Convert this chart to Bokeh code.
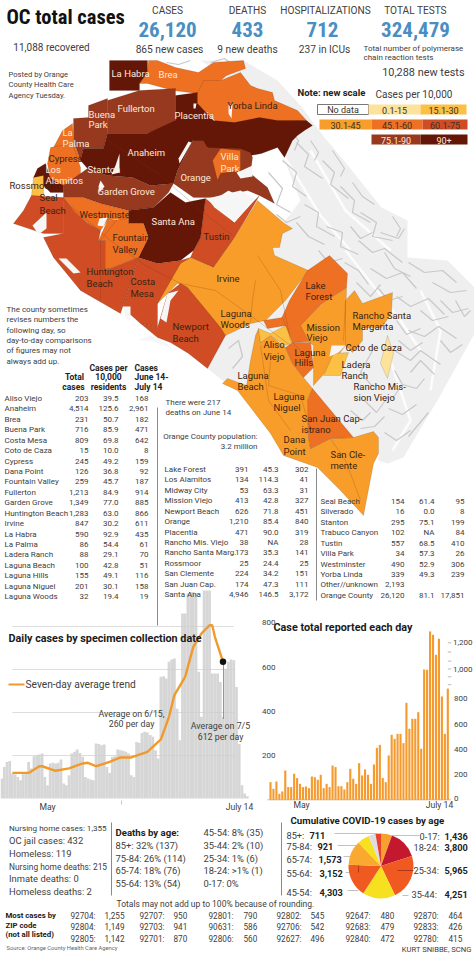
import math
from collections import defaultdict
from bokeh.core.properties import value
from bokeh.embed import file_html
from bokeh.models import ColumnDataSource, Range1d
from bokeh.plotting import figure
from bokeh.resources import INLINE

# ---------- DATA ----------
BIN_LABELS = ["No data", "0.1-15", "15.1-30", "30.1-45", "45.1-60", "60.1-75", "75.1-90", "90+"]
BIN_COLORS = ["#ffffff", "#fde29a", "#fcc044", "#f99d2a", "#ee7023", "#cf4c24", "#97391f", "#651707"]

TABLE_1 = [
    ("Aliso Viejo", "203", "39.5", "168"), ("Anaheim", "4,514", "125.6", "2,961"), ("Brea", "231", "50.7", "182"),
    ("Buena Park", "716", "85.9", "471"), ("Costa Mesa", "809", "69.8", "642"), ("Coto de Caza", "15", "10.0", "8"),
    ("Cypress", "245", "49.2", "159"), ("Dana Point", "126", "36.8", "92"), ("Fountain Valley", "259", "45.7", "187"),
    ("Fullerton", "1,213", "84.9", "914"), ("Garden Grove", "1,349", "77.0", "885"),
    ("Huntington Beach", "1,283", "63.0", "866"), ("Irvine", "847", "30.2", "611"), ("La Habra", "590", "92.9", "435"),
    ("La Palma", "86", "54.4", "61"), ("Ladera Ranch", "88", "29.1", "70"), ("Laguna Beach", "100", "42.8", "51"),
    ("Laguna Hills", "155", "49.1", "116"), ("Laguna Niguel", "201", "30.1", "158"), ("Laguna Woods", "32", "19.4", "19"),
]
TABLE_2 = [
    ("Lake Forest", "391", "45.3", "302"), ("Los Alamitos", "134", "114.3", "41"), ("Midway City", "53", "63.3", "31"),
    ("Mission Viejo", "413", "42.8", "327"), ("Newport Beach", "626", "71.8", "451"), ("Orange", "1,210", "85.4", "840"),
    ("Placentia", "471", "90.0", "319"), ("Rancho Mis. Viejo", "38", "NA", "28"), ("Rancho Santa Marg.", "173", "35.3", "141"),
    ("Rossmoor", "25", "24.4", "25"), ("San Clemente", "224", "34.2", "151"), ("San Juan Cap.", "174", "47.3", "111"),
    ("Santa Ana", "4,946", "146.5", "3,172"),
]
TABLE_3 = [
    ("Seal Beach", "154", "61.4", "95"), ("Silverado", "16", "0.0", "8"), ("Stanton", "295", "75.1", "199"),
    ("Trabuco Canyon", "102", "NA", "84"), ("Tustin", "557", "68.5", "410"), ("Villa Park", "34", "57.3", "26"),
    ("Westminster", "490", "52.9", "306"), ("Yorba Linda", "339", "49.3", "239"), ("Other//unknown", "2,193", "", ""),
    ("Orange County", "26,120", "81.1", "17,851"),
]

# Daily cases by specimen collection date (day index 0 = Apr 14)
DAILY_CASES = [93, 147, 170, 175, 116, 113, 100, 85, 113, 119, 170, 140, 197, 201, 205, 209, 100, 62, 163, 166,
               163, 166, 181, 70, 62, 108, 209, 217, 228, 212, 194, 100, 93, 88, 85, 256, 253, 248, 251, 147,
               119, 194, 197, 228, 225, 222, 217, 209, 108, 100, 263, 259, 305, 310, 307, 295, 287, 225, 186, 566,
               569, 558, 636, 646, 651, 418, 271, 860, 860, 953, 960, 960, 953, 589, 380, 968, 968, 968, 581, 581,
               581, 542, 380, 604, 636, 646, 643, 519, 253, 62, 23, 11]
AVG_DAYS = [4, 10, 14, 15, 20, 25, 30, 32, 35, 40, 44, 48, 54, 59, 62, 64, 68, 71, 74, 77, 78, 79, 82]
AVG_VALUES = [119, 119, 150, 150, 129, 140, 163, 166, 150, 170, 191, 191, 217, 275, 380, 481, 566, 705, 767, 806, 806, 752, 636]
DAILY_TICKS = [200, 400, 600, 800]

REPORTED_CASES = [135, 84, 140, 46, 64, 224, 97, 97, 199, 166, 122, 97, 102, 89, 178, 173, 153, 191, 89, 122, 97,
                  262, 250, 104, 104, 79, 135, 237, 161, 122, 280, 186, 232, 191, 122, 270, 397, 420, 166, 135,
                  339, 497, 466, 504, 504, 433, 741, 543, 619, 619, 670, 390, 996, 994, 1287, 1261, 1108, 1231,
                  790, 504, 850]
REPORTED_TICKS = [0, 200, 400, 600, 800, 1000, 1200]
REPORTED_MINOR_TICKS = [880, 940, 1000, 1060, 1130, 1200]

AGE_GROUPS = ["0-17", "18-24", "25-34", "35-44", "45-54", "55-64", "65-74", "75-84", "85+"]
AGE_CASES = [1436, 3800, 5965, 4251, 4303, 3152, 1573, 921, 711]
AGE_COLORS = ["#f7a030", "#c4182f", "#f05a20", "#f7e020", "#f05a20", "#f9a830", "#f7e020", "#dcdce4", "#e8402a"]

DEATHS_BY_AGE_1 = ["85+: 32% (137)", "75-84: 26% (114)", "65-74: 18% (76)", "55-64: 13% (54)"]
DEATHS_BY_AGE_2 = ["45-54: 8% (35)", "35-44: 2% (10)", "25-34: 1% (6)", "18-24: >1% (1)", "0-17: 0%"]

ZIP_CODES = [
    [("92704:", "1,255"), ("92804:", "1,149"), ("92805:", "1,142")],
    [("92707:", "950"), ("92703:", "941"), ("92701:", "870")],
    [("92801:", "790"), ("90631:", "586"), ("92806:", "560")],
    [("92802:", "545"), ("92706:", "542"), ("92627:", "496")],
    [("92647:", "480"), ("92683:", "479"), ("92840:", "472")],
    [("92870:", "464"), ("92833:", "426"), ("92780:", "415")],
]

# Map outlines: (place, legend bin, outline)
HILLS = [(150, 60), (243, 60), (277, 80), (300, 105), (324, 137), (341, 157), (381, 207), (407, 220), (407, 257),
         (447, 260), (474, 287), (474, 333), (437, 400), (423, 423), (403, 457), (387, 463), (378, 460), (378, 437),
         (353, 437), (300, 380), (237, 390), (222, 380), (207, 368), (225, 300), (300, 200), (260, 100), (200, 60)]
REGIONS = [
    ("Brea", 4, [(148, 60), (157, 60), (175, 67), (198, 72), (213, 62), (243, 60), (245, 68), (226, 75), (218, 82), (203, 82), (197, 93), (173, 90), (147, 83), (139, 83), (147, 72)]),
    ("Yorba Linda", 4, [(197, 93), (203, 80), (220, 80), (240, 72), (250, 85), (257, 88), (272, 92), (274, 100), (297, 110), (306, 120), (277, 122), (259, 119), (234, 124), (217, 122), (197, 105)]),
    ("La Habra", 7, [(109, 60), (147, 60), (147, 72), (139, 83), (139, 90), (109, 90)]),
    ("Fullerton", 6, [(107, 133), (107, 100), (139, 90), (175, 88), (175, 123), (147, 133)]),
    ("Buena Park", 6, [(73, 118), (88, 117), (88, 105), (107, 98), (107, 133), (103, 148), (83, 148), (80, 160), (73, 140)]),
    ("La Palma", 4, [(72, 123), (73, 140), (80, 160), (72, 165), (53, 147), (62, 130)]),
    ("Cypress", 4, [(50, 147), (72, 143), (80, 167), (80, 177), (63, 185), (50, 180), (47, 163)]),
    ("Los Alamitos", 7, [(45, 163), (50, 178), (63, 185), (63, 192), (50, 192), (43, 185), (33, 177), (37, 168)]),
    ("Rossmoor", 2, [(33, 177), (43, 175), (43, 193), (40, 197), (31, 195)]),
    ("Anaheim and Placentia", 7, [(175, 95), (197, 92), (197, 103), (213, 120), (234, 122), (259, 117), (277, 120), (306, 120), (312, 125), (304, 130), (297, 135), (292, 140), (284, 157), (277, 147), (261, 153), (234, 158), (207, 147), (192, 140), (177, 170), (173, 183), (150, 185), (132, 177), (107, 175), (87, 168), (80, 160), (83, 148), (103, 148), (107, 133), (147, 133), (175, 120)]),
    ("Orange", 6, [(177, 170), (192, 140), (203, 140), (207, 147), (240, 148), (250, 152), (252, 157), (250, 173), (267, 187), (274, 203), (259, 195), (247, 190), (234, 193), (228, 190), (217, 197), (193, 197), (173, 183)]),
    ("Villa Park", 4, [(212, 160), (220, 148), (240, 150), (240, 170), (220, 173), (217, 180)]),
    ("Garden Grove and Stanton", 6, [(63, 185), (80, 173), (87, 168), (107, 175), (132, 177), (150, 185), (173, 183), (168, 192), (153, 207), (128, 210), (100, 203), (83, 197), (63, 197)]),
    ("Tustin", 5, [(205, 198), (214, 205), (234, 222), (254, 200), (259, 195), (234, 237), (230, 243), (213, 267), (190, 257), (193, 250), (200, 237)]),
    ("Santa Ana", 7, [(170, 192), (185, 202), (205, 198), (200, 237), (193, 250), (180, 260), (157, 263), (138, 257), (148, 237), (143, 223), (128, 223), (128, 210), (153, 207)]),
    ("Westminster", 4, [(63, 197), (83, 197), (100, 203), (128, 210), (128, 223), (117, 218), (107, 220), (100, 230), (87, 223), (73, 210)]),
    ("Fountain Valley", 4, [(107, 220), (128, 218), (128, 223), (143, 223), (148, 237), (138, 257), (105, 270), (105, 240), (98, 240)]),
    ("Seal Beach", 5, [(31, 195), (63, 197), (63, 233), (43, 233), (13, 223), (23, 210)]),
    ("Huntington Beach", 5, [(63, 197), (73, 210), (87, 223), (100, 230), (98, 240), (105, 240), (105, 270), (138, 257), (122, 307), (120, 313), (80, 290), (53, 257), (43, 237), (63, 233)]),
    ("Costa Mesa", 5, [(138, 257), (157, 263), (180, 260), (190, 257), (157, 303), (157, 327), (140, 323), (122, 307)]),
    ("Irvine and Laguna Woods", 3, [(177, 283), (157, 303), (180, 263), (190, 257), (213, 267), (234, 237), (257, 200), (284, 223), (292, 228), (282, 233), (279, 247), (272, 247), (274, 255), (308, 270), (285, 300), (265, 320), (250, 323), (225, 335), (187, 287)]),
    ("Newport Beach", 5, [(180, 283), (187, 287), (220, 327), (225, 335), (207, 368), (188, 353), (170, 342), (157, 337), (140, 323), (157, 327), (167, 293)]),
    ("Mission Viejo", 3, [(321, 303), (346, 287), (345, 345), (322, 375), (313, 385), (313, 345), (308, 341), (300, 325)]),
    ("Lake Forest", 4, [(329, 255), (347, 273), (346, 287), (321, 303), (300, 325), (308, 341), (292, 342), (283, 322), (281, 318), (289, 300), (307, 270)]),
    ("Rancho Santa Margarita", 3, [(354, 290), (362, 303), (392, 292), (391, 313), (381, 327), (362, 327), (362, 340), (352, 352), (345, 345), (345, 300)]),
    ("Ladera Ranch", 2, [(333, 353), (348, 352), (340, 375), (323, 375)]),
    ("Coto de Caza", 1, [(387, 335), (393, 353), (387, 378), (380, 363)]),
    ("South coast", 3, [(255, 335), (258, 328), (260, 342), (270, 335), (285, 347), (292, 363), (303, 377), (312, 388), (307, 400), (308, 437), (310, 448), (330, 438), (353, 437), (373, 431), (378, 437), (378, 453), (373, 463), (363, 515), (340, 490), (317, 467), (283, 455), (270, 433), (237, 390), (222, 383), (227, 378), (246, 385), (250, 360)]),
    ("Aliso Viejo north", 2, [(258, 328), (270, 333), (285, 325), (292, 342), (285, 345), (270, 335), (260, 342)]),
    ("Laguna Woods east", 4, [(263, 320), (282, 317), (285, 325), (267, 328)]),
    ("Laguna Hills", 4, [(285, 347), (292, 342), (310, 342), (313, 367), (303, 377), (292, 363)]),
    ("San Juan Capistrano", 4, [(312, 388), (353, 437), (330, 438), (310, 448), (308, 437), (307, 400)]),
]
WHITE_HOLES = [
    [(207, 198), (240, 190), (254, 198), (234, 222), (214, 207)],
    [(179, 163), (191, 142), (188, 141), (178, 158)],
    [(115, 165), (119, 153), (119, 172), (111, 174)],
    [(100, 180), (104, 186), (99, 192), (98, 186)],
    [(99, 218), (107, 217), (103, 226), (97, 225)],
    [(32, 225), (46, 212), (46, 228), (38, 234)],
    [(58, 258), (66, 258), (80, 272), (73, 273)],
    [(122, 306), (130, 306), (130, 320), (125, 318)],
    [(160, 318), (167, 293), (178, 290), (170, 300), (166, 322)],
    [(193, 103), (196, 103), (195, 108), (193, 108)],
    [(228, 105), (232, 103), (231, 118), (228, 113)],
    [(252, 165), (241, 170), (236, 172), (240, 178), (252, 176)],
    [(137, 340), (150, 335), (168, 344), (172, 348), (150, 340)],
    [(331, 345), (345, 345), (338, 352), (329, 356)],
]
ROADS = [
    [(60, 197), (110, 240), (145, 265), (180, 283), (215, 290), (250, 315), (290, 345)],
    [(100, 135), (160, 175), (200, 210), (232, 235)],
    [(117, 218), (100, 240), (100, 300)],
    [(257, 255), (280, 290), (290, 340), (310, 360)],
    [(255, 280), (252, 300), (250, 322)],
    [(345, 300), (343, 340)],
    [(260, 345), (268, 400), (290, 430)],
    [(330, 438), (345, 460), (360, 500)],
    [(270, 360), (268, 385), (300, 395), (310, 430)],
]
RIDGES_DARK = [
    [(296, 142), (308, 154), (304, 166), (322, 178)], [(282, 160), (296, 172), (292, 186), (306, 196)],
    [(322, 160), (334, 172), (330, 184), (348, 198)], [(304, 204), (318, 212), (316, 226), (334, 236)],
    [(340, 186), (354, 200), (352, 212), (370, 222)], [(326, 226), (342, 232), (340, 246), (358, 254)],
    [(360, 212), (376, 222), (372, 236), (392, 240)], [(268, 172), (282, 188), (276, 204), (290, 212)],
    [(358, 240), (372, 252), (384, 248), (402, 262)], [(380, 232), (398, 238), (404, 228)],
    [(296, 222), (308, 236), (324, 244)], [(344, 262), (358, 270), (368, 284)],
    [(370, 268), (386, 278), (402, 272), (416, 288)], [(408, 262), (424, 272), (442, 270), (456, 282)],
    [(396, 296), (410, 306), (428, 298), (444, 314)], [(432, 282), (450, 292), (466, 290)],
    [(408, 330), (424, 336), (438, 326), (456, 338)], [(394, 350), (410, 360), (420, 350), (440, 364)],
    [(402, 384), (416, 388), (424, 378)], [(388, 408), (402, 414), (416, 404)],
    [(384, 432), (396, 440), (410, 430)], [(364, 400), (376, 412), (388, 396)],
    [(350, 410), (362, 420), (370, 412)], [(372, 350), (360, 372), (372, 386)],
    [(210, 62), (224, 58), (232, 64)], [(166, 62), (178, 64), (190, 60)],
    [(228, 348), (238, 340), (242, 356), (232, 368)], [(440, 300), (452, 312), (468, 308)],
    [(310, 140), (318, 152), (314, 160)], [(332, 150), (344, 168), (340, 176)], [(290, 130), (298, 140), (294, 150)],
    [(276, 214), (286, 222), (300, 216)], [(352, 182), (362, 196), (374, 204)], [(392, 216), (400, 228), (396, 236)],
    [(318, 250), (328, 262), (342, 258)], [(350, 226), (360, 238), (372, 232)], [(384, 252), (394, 268), (410, 276)],
    [(378, 288), (388, 300), (402, 296)], [(356, 282), (370, 296), (380, 284)], [(420, 310), (432, 320), (448, 316)],
    [(396, 320), (406, 334), (420, 328)], [(440, 340), (450, 352), (462, 344)], [(410, 372), (420, 360), (434, 374)],
    [(394, 370), (402, 384), (392, 398)], [(360, 428), (374, 426), (384, 416)], [(408, 436), (418, 424), (428, 412)],
    [(398, 340), (410, 350), (422, 342)], [(455, 300), (464, 316), (470, 310)],
]
RIDGES_LIGHT = [
    [(280, 150), (320, 215), (350, 250)], [(310, 150), (345, 210), (390, 250)], [(345, 250), (400, 320), (420, 350)],
    [(420, 290), (440, 330), (430, 390)], [(390, 360), (410, 420), (392, 450)], [(180, 61), (200, 68), (226, 61)],
]
# ---------- LAYOUT ----------
W, H = 474, 962
BODY = "Roboto"
HEAD = "Roboto Condensed, Roboto"
INK = "#404040"
BLUE = "#4a8ec2"
DARK_LABEL = "#3a2410"
LIGHT_LABEL = "#fbe9dc"

p = figure(width=W, height=H, x_range=Range1d(0, W), y_range=Range1d(H, 0), output_backend="svg",
           toolbar_location=None, min_border=0, outline_line_color=None, background_fill_color="white")
p.axis.visible = False
p.grid.visible = False


def add_ranges(name, x_val_a, x_px_a, x_val_b, x_px_b, y_val_a, y_px_a, y_val_b, y_px_b):
    """Panel scales: each chart keeps its value scale, placed in the page by two anchor pixels."""
    fx = (x_val_b - x_val_a) / (x_px_b - x_px_a)
    fy = (y_val_b - y_val_a) / (y_px_b - y_px_a)
    p.extra_x_ranges[name] = Range1d(x_val_a + (0 - x_px_a) * fx, x_val_a + (W - x_px_a) * fx)
    p.extra_y_ranges[name] = Range1d(y_val_a + (H - y_px_a) * fy, y_val_a + (0 - y_px_a) * fy)


texts = defaultdict(lambda: dict(x=[], y=[], text=[]))


def label(text, x, y, size=8, color=INK, align="left", bold=False, font=BODY):
    d = texts[(size, color, align, bold, font)]
    d["x"].append(x)
    d["y"].append(y)
    d["text"].append(text)


def flush_labels():
    for (size, color, align, bold, font), d in texts.items():
        p.text(x="x", y="y", text="text", source=ColumnDataSource(d), text_font=value(font),
               text_font_size=f"{size}px", text_color=color, text_align=align, text_baseline="middle",
               text_font_style="bold" if bold else "normal")


def xs_ys(polys):
    return [[q[0] for q in o] for o in polys], [[q[1] for q in o] for o in polys]


# ---------- MAP ----------
hx, hy = xs_ys([HILLS])
p.patches(hx, hy, fill_color="#efefef", line_color=None)
rx, ry = xs_ys(RIDGES_LIGHT)
p.multi_line(rx, ry, line_color="#fcfcfc", line_width=2.5)
rx, ry = xs_ys(RIDGES_DARK)
p.multi_line(rx, ry, line_color="#c8c8c8", line_width=1.2)

gx, gy = xs_ys([r[2] for r in REGIONS])
p.patches(gx, gy, fill_color=[BIN_COLORS[r[1]] for r in REGIONS], line_color="#00000033", line_width=0.6)
rx, ry = xs_ys(ROADS)
p.multi_line(rx, ry, line_color="#7a3a1055", line_width=0.7)
wx, wy = xs_ys(WHITE_HOLES)
p.patches(wx, wy, fill_color="#f6f6f6", line_color=None)

MAP_LABELS_LIGHT = [
    ("La Habra", 111, 73), ("Brea", 158, 74), ("Fullerton", 117, 108), ("Buena", 88, 114), ("Park", 88, 124),
    ("Placentia", 174, 115), ("La", 62, 132), ("Palma", 62, 143), ("Anaheim", 127, 152), ("Los", 45, 169),
    ("Alamitos", 45, 180), ("Stanton", 87, 169), ("Garden Grove", 97, 191), ("Orange", 180, 177), ("Villa", 220, 156),
    ("Park", 220, 168), ("Santa Ana", 151, 221),
]
MAP_LABELS_DARK = [
    ("Yorba Linda", 227, 105), ("Cypress", 48, 158), ("Rossmoor", 9, 185), ("Seal", 39, 197), ("Beach", 39, 210),
    ("Westminster", 79, 214), ("Tustin", 203, 236), ("Fountain", 112, 237), ("Valley", 112, 249), ("Huntington", 86, 271),
    ("Beach", 86, 283), ("Costa", 130, 281), ("Mesa", 130, 293), ("Irvine", 216, 278), ("Laguna", 220, 313),
    ("Woods", 220, 324), ("Newport", 172, 326), ("Beach", 172, 338), ("Lake", 305, 285), ("Forest", 305, 296),
    ("Mission", 306, 327), ("Viejo", 306, 337), ("Rancho Santa", 352, 315), ("Margarita", 352, 326),
    ("Coto de Caza", 345, 347), ("Aliso", 263, 344), ("Viejo", 263, 356), ("Laguna", 294, 352), ("Hills", 294, 362),
    ("Ladera", 341, 364), ("Ranch", 341, 375), ("Rancho Mis-", 353, 386), ("sion Viejo", 353, 397), ("Laguna", 237, 375),
    ("Beach", 237, 386), ("Laguna", 273, 396), ("Niguel", 273, 407), ("San Juan Cap-", 301, 418), ("istrano", 301, 429),
    ("Dana", 283, 439), ("Point", 283, 451), ("San Cle-", 330, 454), ("mente", 330, 465),
]
for t, x, y in MAP_LABELS_LIGHT:
    label(t, x, y, 9.5, LIGHT_LABEL)
for t, x, y in MAP_LABELS_DARK:
    label(t, x, y, 9.5, DARK_LABEL)

# ---------- LEGEND ----------
LEGEND_BOXES = [(0, 317, 368, 104, 114), (1, 368, 420, 104, 114), (2, 420, 466, 104, 114),
                (3, 319, 371, 119, 129), (4, 371, 422, 119, 129), (5, 422, 467, 119, 129),
                (6, 371, 420, 134, 144), (7, 420, 467, 134, 144)]
p.quad(left=[b[1] for b in LEGEND_BOXES], right=[b[2] for b in LEGEND_BOXES], top=[b[3] for b in LEGEND_BOXES],
       bottom=[b[4] for b in LEGEND_BOXES], fill_color=[BIN_COLORS[b[0]] for b in LEGEND_BOXES],
       line_color=["#555555" if b[0] == 0 else None for b in LEGEND_BOXES], line_width=0.8)
for b in LEGEND_BOXES:
    label(BIN_LABELS[b[0]], (b[1] + b[2]) / 2, (b[3] + b[4]) / 2 + 0.5, 9,
          LIGHT_LABEL if b[0] >= 6 else "#3a3226", "center")
label("Note: new scale", 297, 92, 9.5, "#222222", bold=True)
label("Cases per 10,000", 375, 94, 10)

# ---------- HEADER ----------
label("OC total cases", 6, 16, 20.5, "#111111", bold=True, font=HEAD)
for t, x in [("CASES", 167), ("DEATHS", 247), ("HOSPITALIZATIONS", 325), ("TOTAL TESTS", 415)]:
    label(t, x, 9.5, 10.1, INK, "center")
for t, x in [("26,120", 167), ("433", 247), ("712", 322), ("324,479", 415)]:
    label(t, x, 29, 21, BLUE, "center", True, HEAD)
for t, x in [("865 new cases", 169), ("9 new deaths", 247), ("237 in ICUs", 324)]:
    label(t, x, 49, 10.2, INK, "center")
label("11,088 recovered", 51, 47, 10, INK, "center")
label("Total number of polymerase", 363, 48, 8)
label("chain reaction tests", 363, 57, 8)
label("10,288 new tests", 464, 72, 10.9, INK, "right")
for t, y in [("Posted by Orange", 74), ("County Health Care", 84), ("Agency Tuesday.", 95)]:
    label(t, 8, y, 7.6)
for t, y in [("The county sometimes", 309), ("revises numbers the", 319), ("following day, so", 329.5),
             ("day-to-day comparisons", 340), ("of figures may not", 350), ("always add up.", 361)]:
    label(t, 6, y, 8)
label("There were 217", 165, 402, 8)
label("deaths on June 14", 165, 412, 8)
label("Orange County population:", 257, 436, 8, INK, "right")
label("3.2 million", 257, 446, 8, INK, "right")

# ---------- TABLES ----------
for t, x, y in [("Cases per", 108, 367), ("10,000", 108, 376), ("residents", 108, 386), ("Total", 74, 376), ("cases", 73, 386)]:
    label(t, x, y, 8.5, "#222222", "center", True)
for t, y in [("Cases", 367), ("June 14-", 376), ("July 14", 386)]:
    label(t, 134, y, 8.5, "#222222", bold=True)


def table(rows, x_name, x_cols, y0):
    for i, row in enumerate(rows):
        y = y0 + i * 10.43
        label(row[0], x_name, y, 8)
        for v, xc in zip(row[1:], x_cols):
            label(v, xc, y, 8, INK, "right")


table(TABLE_1, 4, (88, 118, 148), 398)
table(TABLE_2, 164, (248, 278, 308), 469)
table(TABLE_3, 320, (404, 434, 464), 501)

# ---------- DAILY CHART ----------
add_ranges("daily", 17, 47, 91, 246.8, 0, 798, 800, 626)
p.vbar(x=list(range(len(DAILY_CASES))), top=DAILY_CASES, bottom=0, width=1.02, fill_color="#d6d6d6", line_color=None,
       x_range_name="daily", y_range_name="daily")
p.segment(x0=[4] * 4, x1=[86] * 4, y0=DAILY_TICKS, y1=DAILY_TICKS, line_color="#cfcfcf", line_width=0.7,
          x_range_name="daily", y_range_name="daily")
p.line(AVG_DAYS, AVG_VALUES, line_color="#f09a2c", line_width=2.4, x_range_name="daily", y_range_name="daily")
p.segment(x0=[AVG_DAYS[-1] + 0.2], x1=[AVG_DAYS[-1] + 0.2], y0=[AVG_VALUES[-1]], y1=[370], line_color="#777777",
          line_width=0.8, x_range_name="daily", y_range_name="daily")
p.scatter([AVG_DAYS[-1]], [AVG_VALUES[-1]], size=6.5, fill_color="#111111", line_color=None, x_range_name="daily", y_range_name="daily")
for v, y in zip(DAILY_TICKS, [755, 711, 667, 622]):
    label(str(v), 275, y, 8, INK, "right")
label("Daily cases by specimen collection date", 8, 638, 10.8, "#1a1a1a", bold=True)
p.line([8, 24], [684, 684], line_color="#f09a2c", line_width=2)
label("Seven-day average trend", 25, 684, 10.2)
label("Average on 6/15,", 131, 713, 8.8, INK, "center")
label("260 per day", 131, 723, 8.8, INK, "center")
label("Average on 7/5", 220, 725, 8.8, INK, "center")
label("612 per day", 220, 736, 8.8, INK, "center")
label("May", 47, 806, 8.6, INK, "center")
label("July 14", 239, 806, 8.6, INK, "center")
p.segment(x0=[121], x1=[121], y0=[800], y1=[804], line_color="#bbbbbb", line_width=0.8)

# ---------- REPORTED CHART ----------
add_ranges("reported", 0, 270, 60, 447.3, 0, 799.3, 1200, 642.3)
p.vbar(x=list(range(len(REPORTED_CASES))), top=REPORTED_CASES, bottom=0, width=0.72, fill_color="#f59a2e",
       line_color=None, x_range_name="reported", y_range_name="reported")
p.segment(x0=[-1], x1=[61], y0=[0], y1=[0], line_color="#c9a070", line_width=0.8, x_range_name="reported", y_range_name="reported")
p.segment(x0=[60] * len(REPORTED_MINOR_TICKS), x1=[61.2] * len(REPORTED_MINOR_TICKS), y0=REPORTED_MINOR_TICKS,
          y1=REPORTED_MINOR_TICKS, line_color="#aaaaaa", line_width=0.8, x_range_name="reported", y_range_name="reported")
for v, y in zip(REPORTED_TICKS, [798, 774, 749, 724, 698, 669, 642]):
    label(f"{v:,}", 452.5 if v >= 1000 else 453.5, y, 8)
label("Case total reported each day", 273, 627, 10.8, "#1a1a1a", bold=True)
label("May", 301, 804, 8.6, INK, "center")
label("July 14", 439, 804, 8.6, INK, "center")

# ---------- BOTTOM ----------
p.segment(x0=[157, 316, 111, 281], x1=[157, 316, 111, 281], y0=[407, 468, 822, 822], y1=[625, 600, 895, 895],
          line_color="#8a8a8a", line_width=1)
for t, y, s in [("Nursing home cases: 1,355", 827, 8.1), ("OC jail cases: 432", 840, 9.4), ("Homeless: 119", 853, 9.4),
                ("Nursing home deaths: 215", 866, 8.4), ("Inmate deaths: 0", 878, 9.4), ("Homeless deaths: 2", 891, 9.4)]:
    label(t, 8.5, y, s)
label("Deaths by age:", 115, 832, 9.6, "#222222", bold=True)
for t, y in zip(DEATHS_BY_AGE_1, [845, 858, 870, 883]):
    label(t, 115, y, 9.4)
for t, y in zip(DEATHS_BY_AGE_2, [832, 845, 858, 870, 883]):
    label(t, 203, y, 9.4)
label("Totals may not add up to 100% because of rounding.", 116, 903, 8.5)

label("Cumulative  COVID-19 cases by age", 290, 820, 9.7, "#1a1a1a", bold=True)
total = sum(AGE_CASES)
ang, starts, ends = 0.0, [], []
for v in AGE_CASES:
    starts.append(math.pi / 2 - ang)
    ang += 2 * math.pi * v / total
    ends.append(math.pi / 2 - ang)
p.segment(x0=[334, 337, 343, 345, 358, 392, 402, 347], x1=[377, 365, 358, 358, 358, 419, 408, 358],
          y0=[833, 845, 856, 872, 872, 835, 895, 890], y1=[833, 845, 856, 872, 865, 835, 895, 890],
          line_color="#bbbbbb", line_width=0.9)
p.wedge(x=[380.5] * len(AGE_CASES), y=[865.5] * len(AGE_CASES), radius=32.5, radius_units="screen", start_angle=starts,
        end_angle=ends, direction="clock", fill_color=AGE_COLORS, line_color=None)
p.segment(x0=[397, 358], x1=[413, 358], y0=[870, 872], y1=[870, 865], line_color="#a03018", line_width=0.8)

LEFT_PIE = [("85+", 286, 835, 309), ("75-84", 286, 846, 317), ("65-74", 286, 859, 318), ("55-64", 286, 873, 319), ("45-54", 286, 892, 319)]
RIGHT_PIE = [("0-17", 419, 836, 444), ("18-24", 413, 847, 444), ("25-34", 413, 870, 444), ("35-44", 411, 894, 444)]
for grp, x, y, xv in LEFT_PIE + RIGHT_PIE:
    label(f"{grp}:", x, y, 9.2)
    label(f"{AGE_CASES[AGE_GROUPS.index(grp)]:,}", xv, y, 9.2, "#222222", bold=True)

for t, y in [("Most cases by", 915), ("ZIP code", 924.5), ("(not all listed)", 934)]:
    label(t, 5, y, 7.8, "#1a1a1a", bold=True)
for col, xz, xv in zip(ZIP_CODES, [70, 139, 208, 276, 345, 413], [104, 173, 243, 310, 380, 448]):
    for (z, v), y in zip(col, [915, 926.3, 938]):
        label(z, xz, y, 8.2)
        label(v, xv, y, 8.2)
label("Source: Orange County Health Care Agency", 6, 947, 5.8, "#666666")
label("KURT SNIBBE, SCNG", 471, 949, 7.6, INK, "right")

flush_labels()

open("out.html", "w").write(file_html(p, INLINE))
